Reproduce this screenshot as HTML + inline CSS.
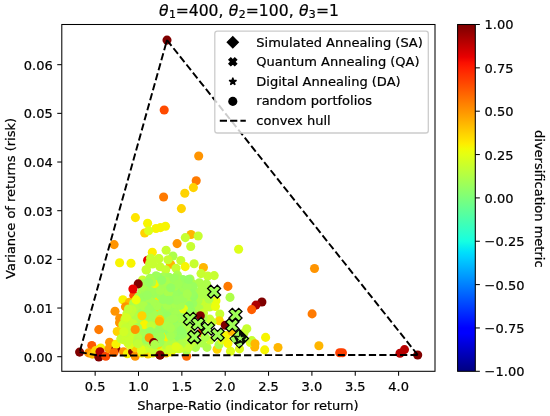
<!DOCTYPE html>
<html><head><meta charset="utf-8"><title>Portfolio scatter</title>
<style>html,body{margin:0;padding:0;background:#fff}body{width:550px;height:416px;overflow:hidden}</style></head>
<body>
<svg width="550" height="416" viewBox="0 0 550 416" style="display:block;font-family:'DejaVu Sans','Liberation Sans',sans-serif"><style>text{stroke:#000;stroke-width:0.22px;fill:#000}</style>
<rect width="550" height="416" fill="#fff"/>
<defs><linearGradient id="jet" x1="0" y1="0" x2="0" y2="1"><stop offset="0.0000" stop-color="#800000"/><stop offset="0.0156" stop-color="#8d0000"/><stop offset="0.0312" stop-color="#9f0000"/><stop offset="0.0469" stop-color="#b20000"/><stop offset="0.0625" stop-color="#c40000"/><stop offset="0.0781" stop-color="#d60000"/><stop offset="0.0938" stop-color="#e80000"/><stop offset="0.1094" stop-color="#fa0f00"/><stop offset="0.1250" stop-color="#ff1e00"/><stop offset="0.1406" stop-color="#ff2d00"/><stop offset="0.1562" stop-color="#ff3b00"/><stop offset="0.1719" stop-color="#ff4a00"/><stop offset="0.1875" stop-color="#ff5900"/><stop offset="0.2031" stop-color="#ff6800"/><stop offset="0.2188" stop-color="#ff7700"/><stop offset="0.2344" stop-color="#ff8600"/><stop offset="0.2500" stop-color="#ff9400"/><stop offset="0.2656" stop-color="#ffa300"/><stop offset="0.2812" stop-color="#ffb200"/><stop offset="0.2969" stop-color="#ffc100"/><stop offset="0.3125" stop-color="#ffd000"/><stop offset="0.3281" stop-color="#ffde00"/><stop offset="0.3438" stop-color="#feed00"/><stop offset="0.3594" stop-color="#f1fc06"/><stop offset="0.3750" stop-color="#e4ff13"/><stop offset="0.3906" stop-color="#d7ff1f"/><stop offset="0.4062" stop-color="#caff2c"/><stop offset="0.4219" stop-color="#beff39"/><stop offset="0.4375" stop-color="#b1ff46"/><stop offset="0.4531" stop-color="#a4ff53"/><stop offset="0.4688" stop-color="#97ff60"/><stop offset="0.4844" stop-color="#8aff6d"/><stop offset="0.5000" stop-color="#7dff7a"/><stop offset="0.5156" stop-color="#70ff87"/><stop offset="0.5312" stop-color="#63ff94"/><stop offset="0.5469" stop-color="#56ffa0"/><stop offset="0.5625" stop-color="#49ffad"/><stop offset="0.5781" stop-color="#3cffba"/><stop offset="0.5938" stop-color="#30ffc7"/><stop offset="0.6094" stop-color="#23ffd4"/><stop offset="0.6250" stop-color="#16ffe1"/><stop offset="0.6406" stop-color="#09f0ee"/><stop offset="0.6562" stop-color="#00e0fb"/><stop offset="0.6719" stop-color="#00d0ff"/><stop offset="0.6875" stop-color="#00c0ff"/><stop offset="0.7031" stop-color="#00b0ff"/><stop offset="0.7188" stop-color="#00a0ff"/><stop offset="0.7344" stop-color="#0090ff"/><stop offset="0.7500" stop-color="#0080ff"/><stop offset="0.7656" stop-color="#0070ff"/><stop offset="0.7812" stop-color="#0060ff"/><stop offset="0.7969" stop-color="#0050ff"/><stop offset="0.8125" stop-color="#0040ff"/><stop offset="0.8281" stop-color="#0030ff"/><stop offset="0.8438" stop-color="#0020ff"/><stop offset="0.8594" stop-color="#0010ff"/><stop offset="0.8750" stop-color="#0000ff"/><stop offset="0.8906" stop-color="#0000ff"/><stop offset="0.9062" stop-color="#0000ed"/><stop offset="0.9219" stop-color="#0000da"/><stop offset="0.9375" stop-color="#0000c8"/><stop offset="0.9531" stop-color="#0000b6"/><stop offset="0.9688" stop-color="#0000a4"/><stop offset="0.9844" stop-color="#000092"/><stop offset="1.0000" stop-color="#000080"/></linearGradient>
<clipPath id="ax"><rect x="61.8" y="24.5" width="373.2" height="346.8"/></clipPath>
<path id="mx" d="M-1,-2 L0,-1 L1,-2 L2,-1 L1,0 L2,1 L1,2 L0,1 L-1,2 L-2,1 L-1,0 L-2,-1 Z"/>
<path id="mstar" d="M0.0000,-0.5000 L-0.1123,-0.1545 L-0.4755,-0.1545 L-0.1816,0.0590 L-0.2939,0.4045 L-0.0000,0.1910 L0.2939,0.4045 L0.1816,0.0590 L0.4755,-0.1545 L0.1123,-0.1545 Z"/>
</defs>
<g clip-path="url(#ax)">
<g>
<circle cx="167.0" cy="40.1" r="4.55" fill="#800000"/>
<circle cx="164.2" cy="110.0" r="4.55" fill="#ff4a00"/>
<circle cx="198.7" cy="156.0" r="4.55" fill="#ff9400"/>
<circle cx="196.2" cy="180.7" r="4.55" fill="#ff7a00"/>
<circle cx="193.4" cy="187.6" r="4.55" fill="#ffd300"/>
<circle cx="184.8" cy="193.2" r="4.55" fill="#ffd300"/>
<circle cx="163.6" cy="197.0" r="4.55" fill="#ff7a00"/>
<circle cx="181.4" cy="208.6" r="4.55" fill="#ffd300"/>
<circle cx="135.4" cy="217.6" r="4.55" fill="#ffe600"/>
<circle cx="147.6" cy="223.3" r="4.55" fill="#f8f500"/>
<circle cx="165.5" cy="226.2" r="4.55" fill="#f8f500"/>
<circle cx="160.5" cy="227.6" r="4.55" fill="#f8f500"/>
<circle cx="156.0" cy="228.5" r="4.55" fill="#f8f500"/>
<circle cx="144.7" cy="233.0" r="4.55" fill="#ffd300"/>
<circle cx="148.6" cy="230.8" r="4.55" fill="#deff19"/>
<circle cx="191.0" cy="234.5" r="4.55" fill="#ffb600"/>
<circle cx="198.2" cy="236.0" r="4.55" fill="#c7ff30"/>
<circle cx="185.3" cy="237.6" r="4.55" fill="#c7ff30"/>
<circle cx="114.1" cy="244.6" r="4.55" fill="#ff9400"/>
<circle cx="177.1" cy="243.6" r="4.55" fill="#ff9400"/>
<circle cx="190.7" cy="246.5" r="4.55" fill="#c7ff30"/>
<circle cx="166.1" cy="250.3" r="4.55" fill="#c7ff30"/>
<circle cx="152.3" cy="252.2" r="4.55" fill="#feed00"/>
<circle cx="119.6" cy="262.8" r="4.55" fill="#f8f500"/>
<circle cx="131.0" cy="263.3" r="4.55" fill="#f8f500"/>
<circle cx="238.6" cy="249.2" r="4.55" fill="#deff19"/>
<circle cx="314.5" cy="268.5" r="4.55" fill="#ff9400"/>
<circle cx="312.1" cy="313.9" r="4.55" fill="#ff7a00"/>
<circle cx="318.9" cy="345.8" r="4.55" fill="#ffb600"/>
<circle cx="339.7" cy="352.7" r="4.55" fill="#ff3f00"/>
<circle cx="342.4" cy="352.7" r="4.55" fill="#ff3f00"/>
<circle cx="400.0" cy="353.2" r="4.55" fill="#b60000"/>
<circle cx="404.5" cy="349.6" r="4.55" fill="#b60000"/>
<circle cx="417.7" cy="355.0" r="4.55" fill="#800000"/>
<circle cx="278.0" cy="347.5" r="4.55" fill="#ffb600"/>
<circle cx="265.6" cy="337.4" r="4.55" fill="#f8f500"/>
<circle cx="264.7" cy="349.9" r="4.55" fill="#f8f500"/>
<circle cx="254.7" cy="347.0" r="4.55" fill="#ffb600"/>
<circle cx="250.3" cy="342.5" r="4.55" fill="#deff19"/>
<circle cx="239.5" cy="348.9" r="4.55" fill="#deff19"/>
<circle cx="246.8" cy="328.8" r="4.55" fill="#c7ff30"/>
<circle cx="261.9" cy="302.0" r="4.55" fill="#800000"/>
<circle cx="255.9" cy="305.1" r="4.55" fill="#ad0000"/>
<circle cx="251.7" cy="309.6" r="4.55" fill="#ff5d00"/>
<circle cx="227.9" cy="286.4" r="4.55" fill="#ff7a00"/>
<circle cx="230.0" cy="297.4" r="4.55" fill="#adff49"/>
<circle cx="147.6" cy="260.2" r="4.55" fill="#e80000"/>
<circle cx="170.6" cy="264.3" r="4.55" fill="#ffb600"/>
<circle cx="133.8" cy="295.4" r="4.55" fill="#ff4e00"/>
<circle cx="172.9" cy="256.0" r="4.55" fill="#adff49"/>
<circle cx="150.6" cy="258.2" r="4.55" fill="#c7ff30"/>
<circle cx="149.6" cy="263.5" r="4.55" fill="#c7ff30"/>
<circle cx="159.1" cy="258.6" r="4.55" fill="#c7ff30"/>
<circle cx="168.0" cy="259.8" r="4.55" fill="#c7ff30"/>
<circle cx="180.8" cy="260.5" r="4.55" fill="#c7ff30"/>
<circle cx="194.1" cy="263.7" r="4.55" fill="#c7ff30"/>
<circle cx="185.2" cy="266.6" r="4.55" fill="#f8f500"/>
<circle cx="203.4" cy="267.5" r="4.55" fill="#ffb600"/>
<circle cx="146.4" cy="270.0" r="4.55" fill="#c7ff30"/>
<circle cx="201.0" cy="273.6" r="4.55" fill="#c7ff30"/>
<circle cx="207.7" cy="276.0" r="4.55" fill="#c7ff30"/>
<circle cx="214.2" cy="275.6" r="4.55" fill="#c7ff30"/>
<circle cx="152.6" cy="264.0" r="4.55" fill="#c7ff30"/>
<circle cx="160.0" cy="266.8" r="4.55" fill="#c7ff30"/>
<circle cx="165.7" cy="269.7" r="4.55" fill="#c7ff30"/>
<circle cx="176.0" cy="268.3" r="4.55" fill="#c7ff30"/>
<circle cx="177.4" cy="275.0" r="4.55" fill="#adff49"/>
<circle cx="163.0" cy="277.0" r="4.55" fill="#adff49"/>
<circle cx="142.5" cy="280.0" r="4.55" fill="#c7ff30"/>
<circle cx="146.1" cy="269.7" r="4.55" fill="#c7ff30"/>
<circle cx="158.5" cy="258.8" r="4.55" fill="#c7ff30"/>
<circle cx="193.0" cy="284.0" r="4.55" fill="#adff49"/>
<circle cx="199.4" cy="282.7" r="4.55" fill="#adff49"/>
<circle cx="202.0" cy="289.0" r="4.55" fill="#adff49"/>
<circle cx="196.8" cy="293.0" r="4.55" fill="#adff49"/>
<circle cx="203.2" cy="296.8" r="4.55" fill="#adff49"/>
<circle cx="204.5" cy="303.0" r="4.55" fill="#c7ff30"/>
<circle cx="202.0" cy="307.0" r="4.55" fill="#c7ff30"/>
<circle cx="209.6" cy="307.0" r="4.55" fill="#c7ff30"/>
<circle cx="216.0" cy="300.7" r="4.55" fill="#ebff0c"/>
<circle cx="215.4" cy="306.5" r="4.55" fill="#ebff0c"/>
<circle cx="193.0" cy="309.5" r="4.55" fill="#c7ff30"/>
<circle cx="219.8" cy="314.0" r="4.55" fill="#c7ff30"/>
<circle cx="209.6" cy="319.0" r="4.55" fill="#c7ff30"/>
<circle cx="190.0" cy="279.0" r="4.55" fill="#adff49"/>
<circle cx="187.5" cy="290.0" r="4.55" fill="#9dff5a"/>
<circle cx="190.5" cy="299.0" r="4.55" fill="#9dff5a"/>
<circle cx="198.0" cy="300.5" r="4.55" fill="#adff49"/>
<circle cx="206.5" cy="284.0" r="4.55" fill="#adff49"/>
<circle cx="199.0" cy="308.5" r="4.55" fill="#adff49"/>
<circle cx="196.0" cy="314.5" r="4.55" fill="#adff49"/>
<circle cx="203.5" cy="313.0" r="4.55" fill="#c7ff30"/>
<circle cx="188.0" cy="307.0" r="4.55" fill="#9dff5a"/>
<circle cx="208.0" cy="291.5" r="4.55" fill="#adff49"/>
<circle cx="209.0" cy="299.0" r="4.55" fill="#adff49"/>
<circle cx="203.0" cy="318.0" r="4.55" fill="#adff49"/>
<circle cx="219.3" cy="320.8" r="4.55" fill="#ffd300"/>
<circle cx="225.3" cy="325.2" r="4.55" fill="#800000"/>
<circle cx="225.9" cy="335.5" r="4.55" fill="#f8f500"/>
<circle cx="232.0" cy="331.5" r="4.55" fill="#ffb600"/>
<circle cx="201.2" cy="332.9" r="4.55" fill="#ff2d00"/>
<circle cx="186.6" cy="356.3" r="4.55" fill="#ff6800"/>
<circle cx="186.6" cy="350.6" r="4.55" fill="#adff49"/>
<circle cx="177.6" cy="347.4" r="4.55" fill="#c7ff30"/>
<circle cx="173.8" cy="345.5" r="4.55" fill="#c7ff30"/>
<circle cx="195.5" cy="347.4" r="4.55" fill="#adff49"/>
<circle cx="207.0" cy="347.4" r="4.55" fill="#adff49"/>
<circle cx="201.8" cy="343.0" r="4.55" fill="#adff49"/>
<circle cx="217.1" cy="349.3" r="4.55" fill="#ffd300"/>
<circle cx="219.0" cy="344.8" r="4.55" fill="#adff49"/>
<circle cx="230.5" cy="351.2" r="4.55" fill="#deff19"/>
<circle cx="251.8" cy="340.6" r="4.55" fill="#c7ff30"/>
<circle cx="255.0" cy="343.8" r="4.55" fill="#ffb600"/>
<circle cx="210.0" cy="340.0" r="4.55" fill="#c7ff30"/>
<circle cx="205.0" cy="337.0" r="4.55" fill="#adff49"/>
<circle cx="212.0" cy="322.0" r="4.55" fill="#c7ff30"/>
<circle cx="222.0" cy="340.0" r="4.55" fill="#deff19"/>
<circle cx="228.0" cy="343.5" r="4.55" fill="#f8f500"/>
<circle cx="244.0" cy="333.0" r="4.55" fill="#c7ff30"/>
<circle cx="79.6" cy="352.1" r="4.55" fill="#800000"/>
<circle cx="98.8" cy="329.6" r="4.55" fill="#ff7a00"/>
<circle cx="91.8" cy="345.5" r="4.55" fill="#ff5900"/>
<circle cx="88.6" cy="352.9" r="4.55" fill="#ff9400"/>
<circle cx="92.4" cy="354.1" r="4.55" fill="#ffb600"/>
<circle cx="95.6" cy="350.6" r="4.55" fill="#ffd300"/>
<circle cx="100.7" cy="348.0" r="4.55" fill="#f8f500"/>
<circle cx="98.8" cy="357.0" r="4.55" fill="#800000"/>
<circle cx="100.0" cy="351.8" r="4.55" fill="#ad0000"/>
<circle cx="105.8" cy="356.3" r="4.55" fill="#ff4a00"/>
<circle cx="109.6" cy="342.3" r="4.55" fill="#ff9400"/>
<circle cx="109.0" cy="348.7" r="4.55" fill="#ff9400"/>
<circle cx="117.2" cy="331.5" r="4.55" fill="#ffd300"/>
<circle cx="119.8" cy="322.5" r="4.55" fill="#ffb600"/>
<circle cx="116.0" cy="348.7" r="4.55" fill="#800000"/>
<circle cx="116.0" cy="344.2" r="4.55" fill="#f8f500"/>
<circle cx="114.0" cy="352.5" r="4.55" fill="#ff6800"/>
<circle cx="123.6" cy="351.8" r="4.55" fill="#ff9400"/>
<circle cx="127.4" cy="353.8" r="4.55" fill="#f8f500"/>
<circle cx="132.6" cy="351.8" r="4.55" fill="#800000"/>
<circle cx="135.2" cy="356.3" r="4.55" fill="#ff9400"/>
<circle cx="122.9" cy="299.8" r="4.55" fill="#f8f500"/>
<circle cx="129.3" cy="302.4" r="4.55" fill="#ffb600"/>
<circle cx="125.5" cy="306.8" r="4.55" fill="#ff9400"/>
<circle cx="115.0" cy="311.3" r="4.55" fill="#ff9400"/>
<circle cx="119.7" cy="318.3" r="4.55" fill="#ff9400"/>
<circle cx="119.7" cy="322.8" r="4.55" fill="#ff9400"/>
<circle cx="126.8" cy="313.9" r="4.55" fill="#c7ff30"/>
<circle cx="123.0" cy="327.0" r="4.55" fill="#ffd300"/>
<circle cx="126.0" cy="335.0" r="4.55" fill="#c7ff30"/>
<circle cx="121.0" cy="339.0" r="4.55" fill="#deff19"/>
<circle cx="128.0" cy="343.0" r="4.55" fill="#f8f500"/>
<circle cx="142.0" cy="353.0" r="4.55" fill="#f8f500"/>
<circle cx="148.0" cy="354.0" r="4.55" fill="#ffd300"/>
<circle cx="153.0" cy="353.0" r="4.55" fill="#f8f500"/>
<circle cx="166.0" cy="353.0" r="4.55" fill="#ffb600"/>
<circle cx="171.0" cy="352.0" r="4.55" fill="#f8f500"/>
<circle cx="160.0" cy="355.0" r="4.55" fill="#800000"/>
<circle cx="131.2" cy="316.7" r="4.55" fill="#c1ff36"/>
<circle cx="141.6" cy="339.9" r="4.55" fill="#b4ff43"/>
<circle cx="160.2" cy="301.7" r="4.55" fill="#a0ff56"/>
<circle cx="164.5" cy="314.5" r="4.55" fill="#97ff60"/>
<circle cx="132.9" cy="320.2" r="4.55" fill="#c7ff30"/>
<circle cx="178.4" cy="316.9" r="4.55" fill="#ffde00"/>
<circle cx="163.1" cy="350.3" r="4.55" fill="#caff2c"/>
<circle cx="175.7" cy="289.1" r="4.55" fill="#aaff4d"/>
<circle cx="170.8" cy="297.7" r="4.55" fill="#94ff63"/>
<circle cx="123.8" cy="339.8" r="4.55" fill="#d7ff1f"/>
<circle cx="181.1" cy="290.1" r="4.55" fill="#97ff60"/>
<circle cx="184.4" cy="345.5" r="4.55" fill="#caff2c"/>
<circle cx="144.5" cy="349.2" r="4.55" fill="#ceff29"/>
<circle cx="190.7" cy="310.2" r="4.55" fill="#94ff63"/>
<circle cx="135.5" cy="313.3" r="4.55" fill="#b4ff43"/>
<circle cx="191.4" cy="334.5" r="4.55" fill="#a0ff56"/>
<circle cx="161.6" cy="344.5" r="4.55" fill="#b7ff40"/>
<circle cx="164.6" cy="277.3" r="4.55" fill="#a7ff50"/>
<circle cx="177.4" cy="331.9" r="4.55" fill="#94ff63"/>
<circle cx="157.0" cy="328.6" r="4.55" fill="#a4ff53"/>
<circle cx="142.7" cy="320.2" r="4.55" fill="#aaff4d"/>
<circle cx="165.3" cy="322.6" r="4.55" fill="#9dff5a"/>
<circle cx="130.8" cy="321.5" r="4.55" fill="#caff2c"/>
<circle cx="139.1" cy="301.8" r="4.55" fill="#b1ff46"/>
<circle cx="181.4" cy="348.1" r="4.55" fill="#caff2c"/>
<circle cx="160.6" cy="307.4" r="4.55" fill="#9dff5a"/>
<circle cx="147.5" cy="343.8" r="4.55" fill="#beff39"/>
<circle cx="133.2" cy="330.7" r="4.55" fill="#c4ff33"/>
<circle cx="121.0" cy="338.6" r="4.55" fill="#c7ff30"/>
<circle cx="188.7" cy="287.8" r="4.55" fill="#aaff4d"/>
<circle cx="158.2" cy="349.9" r="4.55" fill="#dbff1c"/>
<circle cx="187.7" cy="325.8" r="4.55" fill="#a7ff50"/>
<circle cx="182.9" cy="279.5" r="4.55" fill="#97ff60"/>
<circle cx="160.0" cy="294.4" r="4.55" fill="#9dff5a"/>
<circle cx="143.3" cy="345.3" r="4.55" fill="#b7ff40"/>
<circle cx="178.5" cy="340.2" r="4.55" fill="#adff49"/>
<circle cx="175.8" cy="296.8" r="4.55" fill="#94ff63"/>
<circle cx="155.9" cy="324.2" r="4.55" fill="#a4ff53"/>
<circle cx="140.1" cy="332.0" r="4.55" fill="#b4ff43"/>
<circle cx="143.9" cy="283.7" r="4.55" fill="#a0ff56"/>
<circle cx="134.4" cy="332.4" r="4.55" fill="#beff39"/>
<circle cx="192.8" cy="303.6" r="4.55" fill="#9aff5d"/>
<circle cx="179.4" cy="280.7" r="4.55" fill="#94ff63"/>
<circle cx="191.8" cy="342.7" r="4.55" fill="#c1ff36"/>
<circle cx="184.4" cy="335.5" r="4.55" fill="#a7ff50"/>
<circle cx="153.5" cy="350.3" r="4.55" fill="#c4ff33"/>
<circle cx="157.9" cy="277.0" r="4.55" fill="#94ff63"/>
<circle cx="182.7" cy="306.0" r="4.55" fill="#a4ff53"/>
<circle cx="153.2" cy="310.4" r="4.55" fill="#97ff60"/>
<circle cx="126.1" cy="338.6" r="4.55" fill="#caff2c"/>
<circle cx="132.5" cy="344.1" r="4.55" fill="#feed00"/>
<circle cx="138.2" cy="297.1" r="4.55" fill="#adff49"/>
<circle cx="174.0" cy="320.7" r="4.55" fill="#97ff60"/>
<circle cx="165.2" cy="318.1" r="4.55" fill="#a7ff50"/>
<circle cx="152.8" cy="327.7" r="4.55" fill="#a7ff50"/>
<circle cx="135.2" cy="347.7" r="4.55" fill="#ffcc00"/>
<circle cx="169.6" cy="341.2" r="4.55" fill="#a7ff50"/>
<circle cx="171.3" cy="304.1" r="4.55" fill="#94ff63"/>
<circle cx="163.7" cy="293.1" r="4.55" fill="#a4ff53"/>
<circle cx="162.4" cy="341.1" r="4.55" fill="#a7ff50"/>
<circle cx="181.9" cy="291.6" r="4.55" fill="#97ff60"/>
<circle cx="155.7" cy="280.1" r="4.55" fill="#97ff60"/>
<circle cx="180.3" cy="298.0" r="4.55" fill="#94ff63"/>
<circle cx="190.8" cy="299.3" r="4.55" fill="#9aff5d"/>
<circle cx="179.0" cy="294.2" r="4.55" fill="#97ff60"/>
<circle cx="166.3" cy="328.4" r="4.55" fill="#9dff5a"/>
<circle cx="158.3" cy="313.2" r="4.55" fill="#ffde00"/>
<circle cx="137.6" cy="311.5" r="4.55" fill="#a7ff50"/>
<circle cx="158.6" cy="324.3" r="4.55" fill="#aaff4d"/>
<circle cx="125.8" cy="323.3" r="4.55" fill="#c7ff30"/>
<circle cx="148.0" cy="329.6" r="4.55" fill="#a4ff53"/>
<circle cx="179.4" cy="311.9" r="4.55" fill="#97ff60"/>
<circle cx="161.5" cy="305.0" r="4.55" fill="#a7ff50"/>
<circle cx="137.7" cy="319.4" r="4.55" fill="#b1ff46"/>
<circle cx="186.5" cy="308.3" r="4.55" fill="#97ff60"/>
<circle cx="173.0" cy="310.6" r="4.55" fill="#97ff60"/>
<circle cx="144.5" cy="309.6" r="4.55" fill="#a7ff50"/>
<circle cx="153.2" cy="290.6" r="4.55" fill="#9dff5a"/>
<circle cx="174.4" cy="313.6" r="4.55" fill="#9aff5d"/>
<circle cx="174.4" cy="323.4" r="4.55" fill="#97ff60"/>
<circle cx="133.5" cy="303.5" r="4.55" fill="#adff49"/>
<circle cx="183.7" cy="288.1" r="4.55" fill="#a0ff56"/>
<circle cx="167.1" cy="290.6" r="4.55" fill="#a4ff53"/>
<circle cx="185.4" cy="316.2" r="4.55" fill="#a0ff56"/>
<circle cx="131.5" cy="342.6" r="4.55" fill="#d7ff1f"/>
<circle cx="147.5" cy="287.9" r="4.55" fill="#a7ff50"/>
<circle cx="185.8" cy="322.3" r="4.55" fill="#a4ff53"/>
<circle cx="159.0" cy="317.3" r="4.55" fill="#94ff63"/>
<circle cx="146.7" cy="319.4" r="4.55" fill="#9aff5d"/>
<circle cx="135.5" cy="315.5" r="4.55" fill="#b1ff46"/>
<circle cx="170.1" cy="312.3" r="4.55" fill="#a4ff53"/>
<circle cx="183.1" cy="328.0" r="4.55" fill="#aaff4d"/>
<circle cx="158.3" cy="289.8" r="4.55" fill="#97ff60"/>
<circle cx="134.9" cy="335.9" r="4.55" fill="#beff39"/>
<circle cx="152.2" cy="295.5" r="4.55" fill="#aaff4d"/>
<circle cx="143.7" cy="328.8" r="4.55" fill="#9dff5a"/>
<circle cx="130.7" cy="333.4" r="4.55" fill="#c4ff33"/>
<circle cx="177.5" cy="310.3" r="4.55" fill="#a4ff53"/>
<circle cx="188.4" cy="344.4" r="4.55" fill="#b7ff40"/>
<circle cx="154.5" cy="301.7" r="4.55" fill="#aaff4d"/>
<circle cx="157.2" cy="305.8" r="4.55" fill="#a7ff50"/>
<circle cx="158.4" cy="295.7" r="4.55" fill="#ffea00"/>
<circle cx="151.0" cy="283.9" r="4.55" fill="#94ff63"/>
<circle cx="178.6" cy="319.5" r="4.55" fill="#94ff63"/>
<circle cx="141.7" cy="291.9" r="4.55" fill="#a7ff50"/>
<circle cx="174.1" cy="302.3" r="4.55" fill="#a4ff53"/>
<circle cx="153.7" cy="293.9" r="4.55" fill="#9dff5a"/>
<circle cx="169.0" cy="277.3" r="4.55" fill="#a0ff56"/>
<circle cx="143.8" cy="331.7" r="4.55" fill="#a0ff56"/>
<circle cx="152.8" cy="320.0" r="4.55" fill="#a7ff50"/>
<circle cx="147.6" cy="312.0" r="4.55" fill="#9aff5d"/>
<circle cx="122.9" cy="324.6" r="4.55" fill="#ceff29"/>
<circle cx="140.0" cy="309.2" r="4.55" fill="#a0ff56"/>
<circle cx="181.9" cy="300.2" r="4.55" fill="#aaff4d"/>
<circle cx="145.2" cy="302.5" r="4.55" fill="#97ff60"/>
<circle cx="129.6" cy="344.8" r="4.55" fill="#dbff1c"/>
<circle cx="160.6" cy="295.8" r="4.55" fill="#9dff5a"/>
<circle cx="143.5" cy="290.4" r="4.55" fill="#aaff4d"/>
<circle cx="137.5" cy="305.3" r="4.55" fill="#b4ff43"/>
<circle cx="153.5" cy="314.1" r="4.55" fill="#a0ff56"/>
<circle cx="174.2" cy="294.5" r="4.55" fill="#9aff5d"/>
<circle cx="160.7" cy="286.2" r="4.55" fill="#a4ff53"/>
<circle cx="189.2" cy="298.5" r="4.55" fill="#9aff5d"/>
<circle cx="149.7" cy="301.0" r="4.55" fill="#a7ff50"/>
<circle cx="161.2" cy="313.9" r="4.55" fill="#a0ff56"/>
<circle cx="162.5" cy="320.1" r="4.55" fill="#97ff60"/>
<circle cx="150.6" cy="337.2" r="4.55" fill="#ffd300"/>
<circle cx="186.9" cy="300.1" r="4.55" fill="#aaff4d"/>
<circle cx="130.6" cy="336.7" r="4.55" fill="#caff2c"/>
<circle cx="134.7" cy="307.8" r="4.55" fill="#b1ff46"/>
<circle cx="176.0" cy="277.7" r="4.55" fill="#a4ff53"/>
<circle cx="186.3" cy="333.0" r="4.55" fill="#9aff5d"/>
<circle cx="189.8" cy="338.0" r="4.55" fill="#adff49"/>
<circle cx="165.3" cy="308.8" r="4.55" fill="#9aff5d"/>
<circle cx="169.8" cy="308.0" r="4.55" fill="#a0ff56"/>
<circle cx="139.2" cy="324.9" r="4.55" fill="#aaff4d"/>
<circle cx="189.1" cy="305.6" r="4.55" fill="#94ff63"/>
<circle cx="152.7" cy="303.5" r="4.55" fill="#a7ff50"/>
<circle cx="180.5" cy="283.4" r="4.55" fill="#9aff5d"/>
<circle cx="135.6" cy="326.1" r="4.55" fill="#beff39"/>
<circle cx="154.6" cy="283.8" r="4.55" fill="#f4f802"/>
<circle cx="148.9" cy="340.2" r="4.55" fill="#a0ff56"/>
<circle cx="145.5" cy="292.4" r="4.55" fill="#a0ff56"/>
<circle cx="149.7" cy="318.6" r="4.55" fill="#a7ff50"/>
<circle cx="167.1" cy="296.2" r="4.55" fill="#97ff60"/>
<circle cx="142.4" cy="297.8" r="4.55" fill="#9aff5d"/>
<circle cx="164.9" cy="334.7" r="4.55" fill="#9aff5d"/>
<circle cx="193.5" cy="289.3" r="4.55" fill="#a7ff50"/>
<circle cx="128.3" cy="327.5" r="4.55" fill="#baff3c"/>
<circle cx="167.5" cy="345.8" r="4.55" fill="#b4ff43"/>
<circle cx="167.4" cy="315.7" r="4.55" fill="#97ff60"/>
<circle cx="160.5" cy="328.2" r="4.55" fill="#97ff60"/>
<circle cx="169.0" cy="345.1" r="4.55" fill="#b7ff40"/>
<circle cx="144.3" cy="316.2" r="4.55" fill="#9dff5a"/>
<circle cx="168.4" cy="292.9" r="4.55" fill="#aaff4d"/>
<circle cx="144.3" cy="324.6" r="4.55" fill="#f8f500"/>
<circle cx="174.5" cy="286.2" r="4.55" fill="#a7ff50"/>
<circle cx="139.4" cy="317.0" r="4.55" fill="#b1ff46"/>
<circle cx="142.0" cy="336.7" r="4.55" fill="#a7ff50"/>
<circle cx="156.1" cy="275.7" r="4.55" fill="#9dff5a"/>
<circle cx="176.6" cy="282.0" r="4.55" fill="#a7ff50"/>
<circle cx="125.6" cy="327.6" r="4.55" fill="#c4ff33"/>
<circle cx="157.8" cy="344.7" r="4.55" fill="#ffdb00"/>
<circle cx="181.2" cy="318.4" r="4.55" fill="#a0ff56"/>
<circle cx="150.0" cy="278.3" r="4.55" fill="#a4ff53"/>
<circle cx="141.5" cy="349.7" r="4.55" fill="#e1ff16"/>
<circle cx="150.9" cy="291.7" r="4.55" fill="#a0ff56"/>
<circle cx="154.2" cy="332.3" r="4.55" fill="#9aff5d"/>
<circle cx="169.7" cy="320.7" r="4.55" fill="#a4ff53"/>
<circle cx="169.2" cy="284.4" r="4.55" fill="#97ff60"/>
<circle cx="147.4" cy="295.4" r="4.55" fill="#9aff5d"/>
<circle cx="156.8" cy="320.0" r="4.55" fill="#aaff4d"/>
<circle cx="124.9" cy="319.4" r="4.55" fill="#caff2c"/>
<circle cx="158.5" cy="333.3" r="4.55" fill="#9aff5d"/>
<circle cx="185.8" cy="313.0" r="4.55" fill="#97ff60"/>
<circle cx="174.7" cy="303.7" r="4.55" fill="#a7ff50"/>
<circle cx="146.3" cy="336.2" r="4.55" fill="#a4ff53"/>
<circle cx="173.5" cy="318.5" r="4.55" fill="#a4ff53"/>
<circle cx="142.3" cy="314.5" r="4.55" fill="#a0ff56"/>
<circle cx="190.5" cy="328.6" r="4.55" fill="#adff49"/>
<circle cx="183.5" cy="309.0" r="4.55" fill="#e4ff13"/>
<circle cx="174.5" cy="348.9" r="4.55" fill="#d4ff23"/>
<circle cx="151.0" cy="325.9" r="4.55" fill="#c1ff36"/>
<circle cx="166.5" cy="336.9" r="4.55" fill="#fbf100"/>
<circle cx="190.7" cy="312.8" r="4.55" fill="#97ff60"/>
<circle cx="152.9" cy="315.4" r="4.55" fill="#a4ff53"/>
<circle cx="133.0" cy="323.7" r="4.55" fill="#c7ff30"/>
<circle cx="147.0" cy="306.7" r="4.55" fill="#97ff60"/>
<circle cx="132.1" cy="309.9" r="4.55" fill="#c1ff36"/>
<circle cx="125.9" cy="332.6" r="4.55" fill="#c4ff33"/>
<circle cx="170.7" cy="281.4" r="4.55" fill="#a4ff53"/>
<circle cx="188.1" cy="347.8" r="4.55" fill="#c7ff30"/>
<circle cx="193.7" cy="296.1" r="4.55" fill="#94ff63"/>
<circle cx="180.2" cy="305.4" r="4.55" fill="#a4ff53"/>
<circle cx="174.1" cy="278.5" r="4.55" fill="#9dff5a"/>
<circle cx="136.1" cy="299.9" r="4.55" fill="#eeff09"/>
<circle cx="130.6" cy="312.3" r="4.55" fill="#beff39"/>
<circle cx="167.1" cy="305.3" r="4.55" fill="#a7ff50"/>
<circle cx="143.5" cy="305.8" r="4.55" fill="#adff49"/>
<circle cx="176.6" cy="300.3" r="4.55" fill="#9dff5a"/>
<circle cx="152.9" cy="340.0" r="4.55" fill="#97ff60"/>
<circle cx="181.9" cy="325.0" r="4.55" fill="#aaff4d"/>
<circle cx="181.6" cy="341.9" r="4.55" fill="#aaff4d"/>
<circle cx="138.1" cy="338.2" r="4.55" fill="#b7ff40"/>
<circle cx="155.5" cy="337.4" r="4.55" fill="#a0ff56"/>
<circle cx="160.2" cy="290.4" r="4.55" fill="#a7ff50"/>
<circle cx="178.3" cy="284.1" r="4.55" fill="#a0ff56"/>
<circle cx="126.1" cy="317.3" r="4.55" fill="#d4ff23"/>
<circle cx="169.1" cy="300.2" r="4.55" fill="#97ff60"/>
<circle cx="175.1" cy="335.9" r="4.55" fill="#9dff5a"/>
<circle cx="162.9" cy="325.8" r="4.55" fill="#9aff5d"/>
<circle cx="127.7" cy="342.1" r="4.55" fill="#caff2c"/>
<circle cx="178.5" cy="336.8" r="4.55" fill="#94ff63"/>
<circle cx="163.2" cy="283.9" r="4.55" fill="#a4ff53"/>
<circle cx="150.0" cy="348.2" r="4.55" fill="#caff2c"/>
<circle cx="169.1" cy="332.0" r="4.55" fill="#94ff63"/>
<circle cx="160.7" cy="336.8" r="4.55" fill="#a0ff56"/>
<circle cx="137.1" cy="342.5" r="4.55" fill="#b4ff43"/>
<circle cx="173.7" cy="346.0" r="4.55" fill="#b1ff46"/>
<circle cx="151.7" cy="282.3" r="4.55" fill="#aaff4d"/>
<circle cx="193.0" cy="286.6" r="4.55" fill="#9aff5d"/>
<circle cx="137.9" cy="343.7" r="4.55" fill="#c1ff36"/>
<circle cx="192.0" cy="293.6" r="4.55" fill="#97ff60"/>
<circle cx="182.9" cy="298.2" r="4.55" fill="#9dff5a"/>
<circle cx="187.4" cy="286.6" r="4.55" fill="#9dff5a"/>
<circle cx="149.2" cy="309.1" r="4.55" fill="#9dff5a"/>
<circle cx="123.8" cy="331.7" r="4.55" fill="#d1ff26"/>
<circle cx="172.6" cy="334.1" r="4.55" fill="#9dff5a"/>
<circle cx="159.7" cy="342.4" r="4.55" fill="#a0ff56"/>
<circle cx="171.6" cy="342.7" r="4.55" fill="#b1ff46"/>
<circle cx="181.3" cy="343.8" r="4.55" fill="#adff49"/>
<circle cx="137.6" cy="327.6" r="4.55" fill="#a7ff50"/>
<circle cx="187.5" cy="339.5" r="4.55" fill="#b4ff43"/>
<circle cx="190.0" cy="315.6" r="4.55" fill="#a0ff56"/>
<circle cx="151.0" cy="343.7" r="4.55" fill="#b4ff43"/>
<circle cx="170.6" cy="336.1" r="4.55" fill="#a4ff53"/>
<circle cx="187.3" cy="294.0" r="4.55" fill="#a7ff50"/>
<circle cx="128.5" cy="309.0" r="4.55" fill="#c4ff33"/>
<circle cx="182.6" cy="334.4" r="4.55" fill="#97ff60"/>
<circle cx="190.5" cy="320.4" r="4.55" fill="#97ff60"/>
<circle cx="146.4" cy="339.8" r="4.55" fill="#9dff5a"/>
<circle cx="188.5" cy="279.5" r="4.55" fill="#94ff63"/>
<circle cx="165.6" cy="281.2" r="4.55" fill="#aaff4d"/>
<circle cx="150.4" cy="331.6" r="4.55" fill="#97ff60"/>
<circle cx="141.9" cy="286.7" r="4.55" fill="#a7ff50"/>
<circle cx="176.9" cy="327.7" r="4.55" fill="#9dff5a"/>
<circle cx="169.7" cy="349.5" r="4.55" fill="#d1ff26"/>
<circle cx="166.6" cy="325.9" r="4.55" fill="#aaff4d"/>
<circle cx="179.1" cy="326.6" r="4.55" fill="#9dff5a"/>
<circle cx="170.6" cy="328.1" r="4.55" fill="#a7ff50"/>
<circle cx="170.8" cy="287.8" r="4.55" fill="#94ff63"/>
<circle cx="161.7" cy="280.2" r="4.55" fill="#94ff63"/>
<circle cx="178.7" cy="348.8" r="4.55" fill="#d1ff26"/>
<circle cx="148.7" cy="282.2" r="4.55" fill="#9aff5d"/>
<circle cx="181.0" cy="330.4" r="4.55" fill="#94ff63"/>
<circle cx="163.2" cy="299.5" r="4.55" fill="#97ff60"/>
<circle cx="200.3" cy="315.8" r="4.55" fill="#800000"/>
<circle cx="138.2" cy="283.9" r="4.55" fill="#800000"/>
<circle cx="132.9" cy="289.0" r="4.55" fill="#e80000"/>
<circle cx="159.9" cy="319.6" r="4.55" fill="#ffd300"/>
<circle cx="142.0" cy="315.8" r="4.55" fill="#ffd300"/>
<circle cx="149.2" cy="337.8" r="4.55" fill="#ff9400"/>
<circle cx="159.4" cy="321.3" r="4.55" fill="#ffb600"/>
<circle cx="135.2" cy="329.5" r="4.55" fill="#ff9400"/>
<circle cx="153.7" cy="342.6" r="4.55" fill="#800000"/>
<circle cx="154.8" cy="344.6" r="4.55" fill="#adff49"/>
<circle cx="176.0" cy="346.8" r="4.55" fill="#deff19"/>
<circle cx="160.0" cy="355.0" r="4.55" fill="#800000"/>
</g>
<path d="M167.0,40.1 L79.6,352.1" fill="none" stroke="#000" stroke-width="1.95" stroke-dasharray="7.25 3.15" stroke-dashoffset="-3.3"/>
<path d="M167.0,40.1 L417.7,354.9" fill="none" stroke="#000" stroke-width="1.95" stroke-dasharray="7.25 3.15"/>
<path d="M417.7,354.9 L160.0,355.3" fill="none" stroke="#000" stroke-width="1.95" stroke-dasharray="7.25 3.15"/>
<path d="M98.9,355.6 L160.0,355.3" fill="none" stroke="#000" stroke-width="1.95" stroke-dasharray="7.25 3.15"/>
<path d="M79.6,352.1 L98.9,355.6" fill="none" stroke="#000" stroke-width="1.95" stroke-dasharray="7.25 3.15"/>
<path d="M167.0,40.1 l-1.0,3.6" fill="none" stroke="#000" stroke-width="1.95"/>
<use href="#mx" transform="translate(214.1,291.7) scale(3.250)" fill="#a0ff56" stroke="#000" stroke-width="0.400" stroke-linejoin="miter"/>
<use href="#mx" transform="translate(190.0,318.9) scale(3.250)" fill="#a0ff56" stroke="#000" stroke-width="0.400" stroke-linejoin="miter"/>
<use href="#mx" transform="translate(197.9,323.9) scale(3.250)" fill="#a0ff56" stroke="#000" stroke-width="0.400" stroke-linejoin="miter"/>
<use href="#mx" transform="translate(208.0,328.6) scale(3.250)" fill="#a0ff56" stroke="#000" stroke-width="0.400" stroke-linejoin="miter"/>
<use href="#mx" transform="translate(217.6,334.6) scale(3.250)" fill="#a0ff56" stroke="#000" stroke-width="0.400" stroke-linejoin="miter"/>
<use href="#mx" transform="translate(194.3,337.0) scale(3.250)" fill="#a0ff56" stroke="#000" stroke-width="0.400" stroke-linejoin="miter"/>
<use href="#mx" transform="translate(235.5,314.8) scale(3.250)" fill="#a0ff56" stroke="#000" stroke-width="0.400" stroke-linejoin="miter"/>
<use href="#mx" transform="translate(232.3,325.2) scale(3.250)" fill="#a0ff56" stroke="#000" stroke-width="0.400" stroke-linejoin="miter"/>
<path d="M239.30,329.41 L248.49,338.60 L239.30,347.79 L230.11,338.60 Z" fill="#0a0f05" stroke="#000" stroke-width="1.30" stroke-linejoin="miter"/>
<path d="M233.90,335.40 L239.10,330.60 L239.00,335.90 Z" fill="#a0ff56"/>
<path d="M230.50,338.00 L233.90,336.40 L236.40,341.50 L233.40,343.00 Z" fill="#a0ff56"/>
<path d="M236.30,344.30 L241.40,342.50 L242.20,344.40 L238.70,347.10 Z" fill="#a0ff56"/>
<path d="M244.50,339.40 L246.80,337.60 L247.40,338.80 L245.30,340.60 Z" fill="#a0ff56"/>
<use href="#mstar" transform="translate(240.1,338.4) scale(10.000)" fill="#a0ff56" stroke="#000" stroke-width="0.085" stroke-linejoin="bevel"/>
</g>
<rect x="61.8" y="24.5" width="373.2" height="346.8" fill="none" stroke="#000" stroke-width="1.04"/>
<path d="M95.15,371.30 v4.55" stroke="#000" stroke-width="1.04"/>
<text x="95.15" y="391.4" font-size="13" text-anchor="middle">0.5</text>
<path d="M138.50,371.30 v4.55" stroke="#000" stroke-width="1.04"/>
<text x="138.50" y="391.4" font-size="13" text-anchor="middle">1.0</text>
<path d="M181.85,371.30 v4.55" stroke="#000" stroke-width="1.04"/>
<text x="181.85" y="391.4" font-size="13" text-anchor="middle">1.5</text>
<path d="M225.20,371.30 v4.55" stroke="#000" stroke-width="1.04"/>
<text x="225.20" y="391.4" font-size="13" text-anchor="middle">2.0</text>
<path d="M268.55,371.30 v4.55" stroke="#000" stroke-width="1.04"/>
<text x="268.55" y="391.4" font-size="13" text-anchor="middle">2.5</text>
<path d="M311.90,371.30 v4.55" stroke="#000" stroke-width="1.04"/>
<text x="311.90" y="391.4" font-size="13" text-anchor="middle">3.0</text>
<path d="M355.25,371.30 v4.55" stroke="#000" stroke-width="1.04"/>
<text x="355.25" y="391.4" font-size="13" text-anchor="middle">3.5</text>
<path d="M398.60,371.30 v4.55" stroke="#000" stroke-width="1.04"/>
<text x="398.60" y="391.4" font-size="13" text-anchor="middle">4.0</text>
<path d="M61.80,356.70 h-4.55" stroke="#000" stroke-width="1.04"/>
<text x="52.7" y="361.65" font-size="13" text-anchor="end">0.00</text>
<path d="M61.80,308.03 h-4.55" stroke="#000" stroke-width="1.04"/>
<text x="52.7" y="312.98" font-size="13" text-anchor="end">0.01</text>
<path d="M61.80,259.36 h-4.55" stroke="#000" stroke-width="1.04"/>
<text x="52.7" y="264.31" font-size="13" text-anchor="end">0.02</text>
<path d="M61.80,210.69 h-4.55" stroke="#000" stroke-width="1.04"/>
<text x="52.7" y="215.64" font-size="13" text-anchor="end">0.03</text>
<path d="M61.80,162.02 h-4.55" stroke="#000" stroke-width="1.04"/>
<text x="52.7" y="166.97" font-size="13" text-anchor="end">0.04</text>
<path d="M61.80,113.35 h-4.55" stroke="#000" stroke-width="1.04"/>
<text x="52.7" y="118.30" font-size="13" text-anchor="end">0.05</text>
<path d="M61.80,64.68 h-4.55" stroke="#000" stroke-width="1.04"/>
<text x="52.7" y="69.63" font-size="13" text-anchor="end">0.06</text>
<text x="247.9" y="409.9" font-size="13" text-anchor="middle">Sharpe-Ratio (indicator for return)</text>
<text transform="translate(15.0,198.4) rotate(-90)" font-size="13" text-anchor="middle">Variance of returns (risk)</text>
<text><tspan x="159.1" y="15.6" font-style="italic" font-size="15.6">θ</tspan><tspan x="169.0" y="18.4" font-size="10.9">1</tspan><tspan x="175.7" y="15.6" font-size="15.6">=400, </tspan><tspan x="228.7" y="15.6" font-style="italic" font-size="15.6">θ</tspan><tspan x="238.7" y="18.4" font-size="10.9">2</tspan><tspan x="245.8" y="15.6" font-size="15.6">=100, </tspan><tspan x="298.9" y="15.6" font-style="italic" font-size="15.6">θ</tspan><tspan x="308.8" y="18.4" font-size="10.9">3</tspan><tspan x="316.0" y="15.6" font-size="15.6">=1</tspan></text>
<rect x="214.8" y="31.2" width="213.5" height="101.8" rx="2.6" fill="#fff" fill-opacity="0.8" stroke="#ccc" stroke-width="1.3"/>
<path d="M232.80,36.68 L238.32,42.20 L232.80,47.72 L227.28,42.20 Z" fill="#000" stroke="#000" stroke-width="1.30" stroke-linejoin="miter"/>
<use href="#mx" transform="translate(232.8,61.8) scale(1.950)" fill="#000" stroke="#000" stroke-width="0.667" stroke-linejoin="miter"/>
<use href="#mstar" transform="translate(232.8,81.6) scale(7.800)" fill="#000" stroke="#000" stroke-width="0.167" stroke-linejoin="bevel"/>
<circle cx="232.8" cy="101.4" r="4.55" fill="#000"/>
<path d="M219.8,120.7 H245.8" stroke="#000" stroke-width="1.95" stroke-dasharray="7.2 3.1"/>
<text x="256.3" y="46.50" font-size="13">Simulated Annealing (SA)</text>
<text x="256.3" y="66.10" font-size="13">Quantum Annealing (QA)</text>
<text x="256.3" y="85.70" font-size="13">Digital Annealing (DA)</text>
<text x="256.3" y="105.30" font-size="13">random portfolios</text>
<text x="256.3" y="124.90" font-size="13">convex hull</text>
<rect x="457.6" y="24.5" width="17.7" height="346.8" fill="url(#jet)" stroke="#000" stroke-width="1.04"/>
<path d="M475.30,24.50 h4.55" stroke="#000" stroke-width="1.04"/>
<text x="484.6" y="29.45" font-size="13">1.00</text>
<path d="M475.30,67.85 h4.55" stroke="#000" stroke-width="1.04"/>
<text x="484.6" y="72.80" font-size="13">0.75</text>
<path d="M475.30,111.20 h4.55" stroke="#000" stroke-width="1.04"/>
<text x="484.6" y="116.15" font-size="13">0.50</text>
<path d="M475.30,154.55 h4.55" stroke="#000" stroke-width="1.04"/>
<text x="484.6" y="159.50" font-size="13">0.25</text>
<path d="M475.30,197.90 h4.55" stroke="#000" stroke-width="1.04"/>
<text x="484.6" y="202.85" font-size="13">0.00</text>
<path d="M475.30,241.25 h4.55" stroke="#000" stroke-width="1.04"/>
<text x="484.6" y="246.20" font-size="13">−0.25</text>
<path d="M475.30,284.60 h4.55" stroke="#000" stroke-width="1.04"/>
<text x="484.6" y="289.55" font-size="13">−0.50</text>
<path d="M475.30,327.95 h4.55" stroke="#000" stroke-width="1.04"/>
<text x="484.6" y="332.90" font-size="13">−0.75</text>
<path d="M475.30,371.30 h4.55" stroke="#000" stroke-width="1.04"/>
<text x="484.6" y="376.25" font-size="13">−1.00</text>
<text transform="translate(534.8,198.8) rotate(90)" font-size="13" text-anchor="middle">diversification metric</text>
</svg>
</body></html>
